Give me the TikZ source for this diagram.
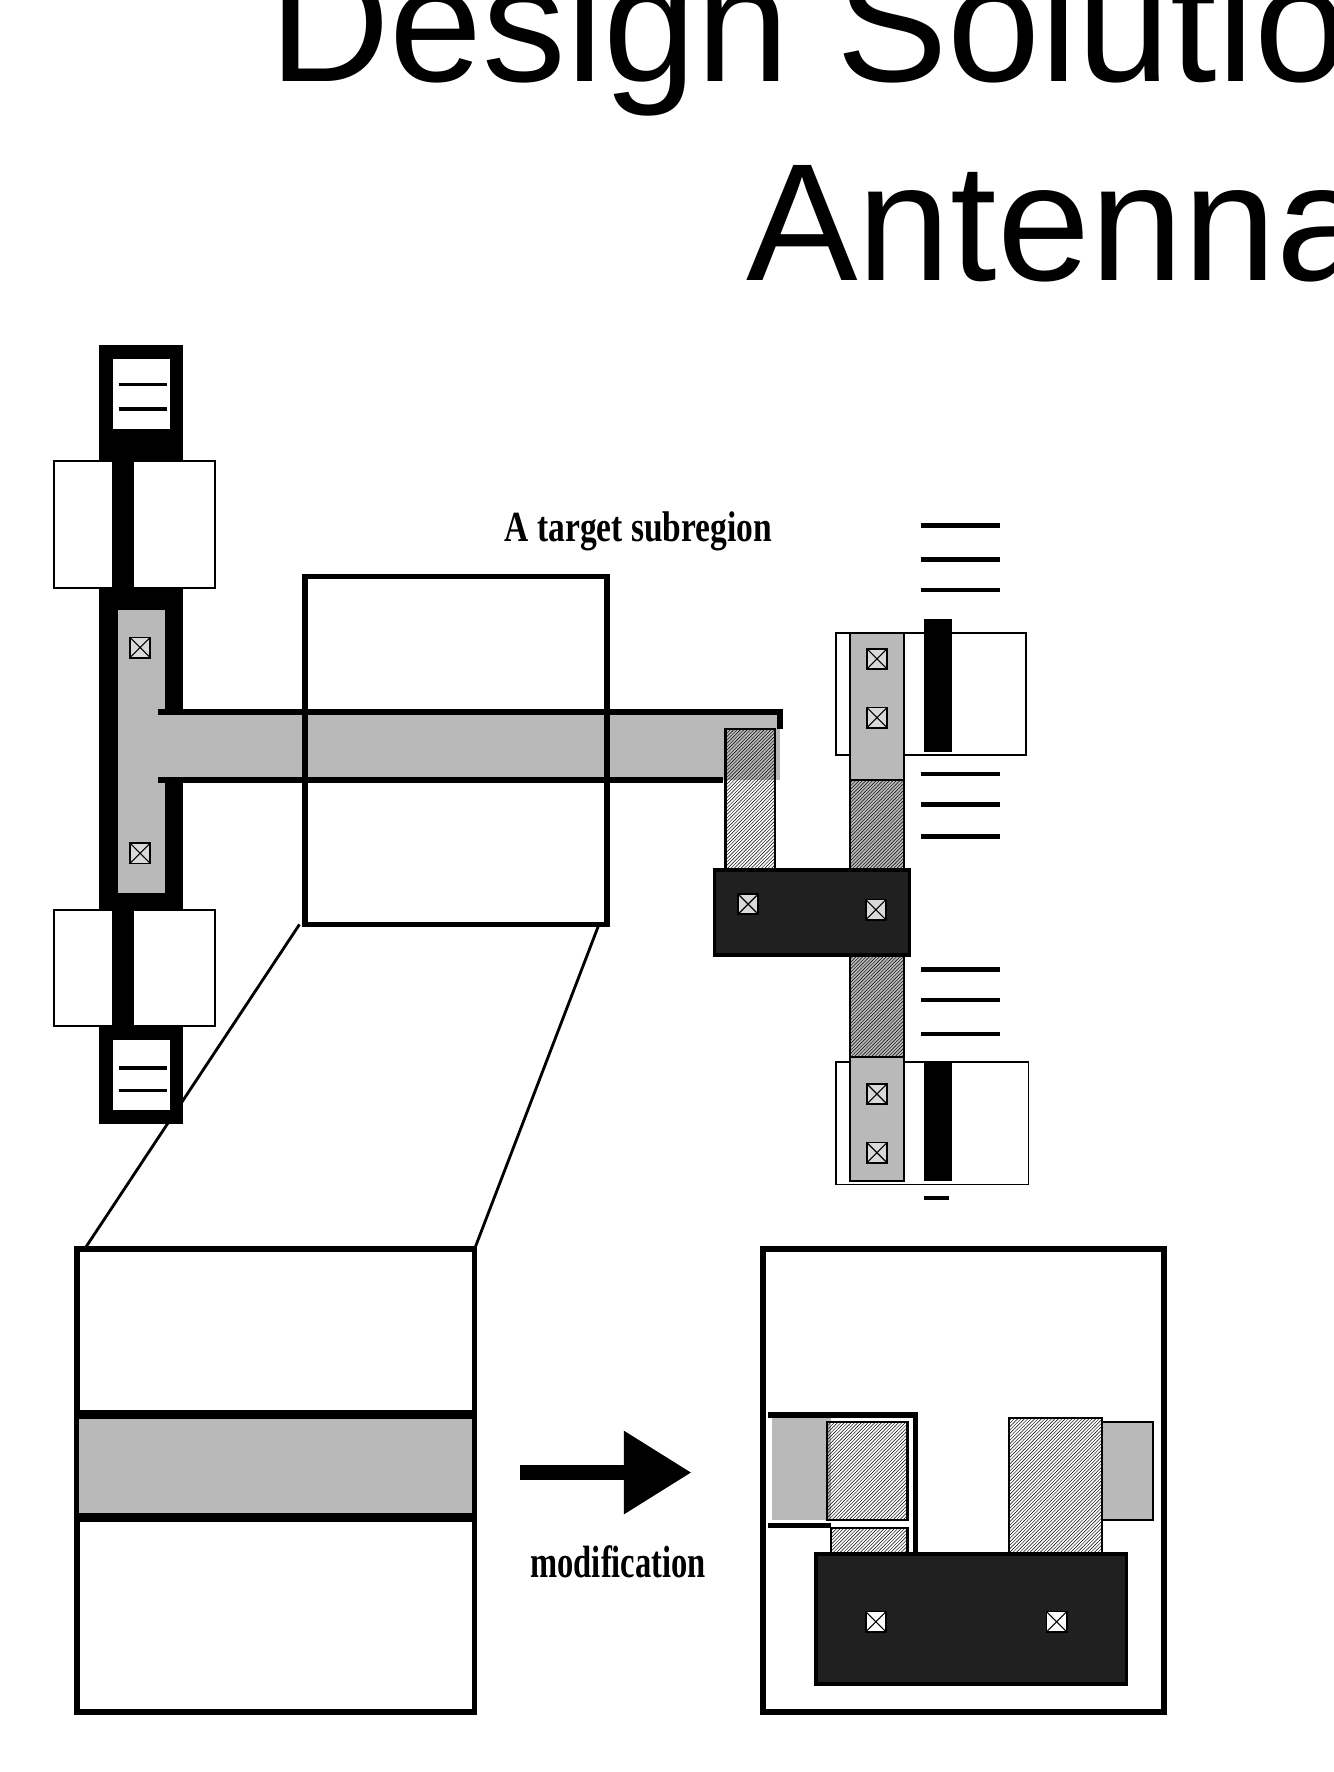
\documentclass[tikz,border=0pt]{standalone}
\usepackage{fontspec}
\setmainfont{Liberation Serif}
\newfontfamily\titlefont{Liberation Sans}
\usetikzlibrary{patterns,arrows.meta}
\begin{document}
\begin{tikzpicture}[x=1pt,y=-1pt,
  hatch/.style={pattern=north east lines,pattern color=black,draw=black,line width=2pt},
  dark/.style={fill=gray!25!black,draw=black,line width=3pt},
  wbox/.style={fill=white,draw=black,line width=1.5pt},
  cont/.style={draw=black,line width=1.5pt,fill=gray!30,minimum size=18pt,inner sep=0pt,
    path picture={\draw[line width=1pt] (path picture bounding box.south west)--(path picture bounding box.north east) (path picture bounding box.north west)--(path picture bounding box.south east);}}]
\useasboundingbox (0,0) rectangle (1180,1568);
\clip (0,0) rectangle (1180,1568);
\fill[white] (0,0) rectangle (1180,1568);
% title
\node[anchor=base west,font=\titlefont\fontsize{148}{148}\selectfont,inner sep=0] (t1) at (238,72) {Design Solutio};
\node[anchor=base west,font=\titlefont\fontsize{148}{148}\selectfont,inner sep=0] (t2) at (660,248) {Antenna};
% left column
\fill[black] (88,305) rectangle (162,995);
\fill[white] (100,318) rectangle (150,380);
\draw[line width=3pt] (105,340)--(148,340) (105,362)--(148,362);
\fill[white] (100,920) rectangle (150,982);
\draw[line width=3pt] (105,945)--(148,945) (105,965)--(148,965);
\draw[wbox] (48,408) rectangle (100,520);
\draw[wbox] (118,408) rectangle (190,520);
\draw[wbox] (48,805) rectangle (100,908);
\draw[wbox] (118,805) rectangle (190,908);
\fill[gray!55] (104,540) rectangle (146,790);
\fill[gray!55] (140,630) rectangle (690,690);
\draw[line width=5pt] (140,630)--(690,630)--(690,645) (140,690)--(640,690);
\node[cont] (c1) at (124,573) {};
\node[cont] (c2) at (124,755) {};
% target subregion
\draw[line width=5pt] (270,510) rectangle (537,818);
\node[font=\bfseries\fontsize{38}{38}\selectfont,inner sep=0,xscale=0.78] (lab) at (565,470) {A target subregion};
% right column
\draw[wbox] (740,560) rectangle (908,668);
\draw[wbox] (740,940) rectangle (910,1048);
\fill[gray!55] (752,560) rectangle (800,1045);
\draw[line width=1.5pt] (752,560) rectangle (800,1045);
\draw[hatch] (752,690) rectangle (800,770);
\draw[hatch] (752,845) rectangle (800,935);
% hatched vertical & dark block
\draw[hatch] (642,645) rectangle (686,770);
\draw[dark] (632,770) rectangle (805,845);
\node[cont] (c3) at (662,800) {};
\node[cont] (c4) at (775,805) {};
\node[cont] (c5) at (776,583) {};
\node[cont] (c6) at (776,635) {};
\node[cont] (c7) at (776,968) {};
\node[cont] (c8) at (776,1020) {};
\fill[black] (818,548) rectangle (842,665);
\fill[black] (818,940) rectangle (842,1045);
\draw[line width=4pt] (815,465)--(885,465) (815,495)--(885,495) (815,522)--(885,522)
 (815,685)--(885,685) (815,712)--(885,712) (815,740)--(885,740)
 (815,858)--(885,858) (815,885)--(885,885) (815,915)--(885,915);
\draw[line width=3pt] (818,1060)--(840,1060);
% projection lines
\draw[line width=2.5pt] (265,818)--(75,1105) (530,818)--(420,1105);
% bottom left
\draw[line width=5pt] (68,1105) rectangle (420,1515);
\fill[gray!55] (70,1252) rectangle (418,1343);
\draw[line width=8pt] (70,1252)--(418,1252) (70,1343)--(418,1343);
% arrow
\draw[line width=14pt,-{Triangle[length=60pt,width=70pt]}] (460,1303)--(612,1303);
\node[font=\bfseries\fontsize{40}{40}\selectfont,inner sep=0,xscale=0.72] (mod) at (547,1382) {modification};
% bottom right
\draw[line width=5pt] (675,1105) rectangle (1030,1515);
\fill[gray!55] (683,1255) rectangle (735,1345);
\draw[hatch] (732,1258) rectangle (803,1345);
\draw[line width=5pt] (680,1252)--(810,1252)--(810,1375) (680,1350)--(735,1350);
\draw[hatch] (735,1352) rectangle (803,1375);
\draw[hatch] (893,1255) rectangle (975,1375);
\fill[gray!55] (975,1258) rectangle (1020,1345);
\draw[line width=1.5pt] (975,1258) rectangle (1020,1345);
\draw[dark] (722,1375) rectangle (997,1490);
\node[cont,fill=white] (c9) at (775,1435) {};
\node[cont,fill=white] (c10) at (935,1435) {};
\end{tikzpicture}
\end{document}
